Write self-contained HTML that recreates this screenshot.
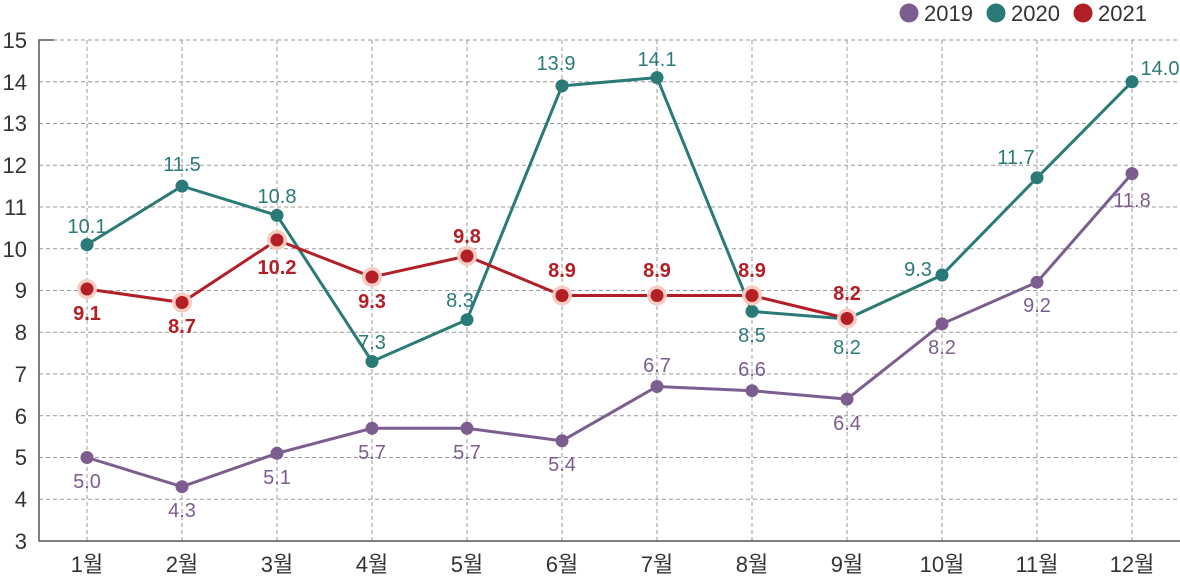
<!DOCTYPE html>
<html><head><meta charset="utf-8"><style>
html,body{margin:0;padding:0;background:#fff;}
svg{display:block;font-family:"Liberation Sans","Noto Sans CJK KR",sans-serif;}
.g{stroke:#999;stroke-width:1;stroke-dasharray:4,3;fill:none}
.yt{font-size:22px;fill:#333;text-anchor:end}
.xt{font-size:22px;fill:#333;text-anchor:middle}
.p{fill:#7b5e8f;font-size:20px;text-anchor:middle}
.t{fill:#2a7a77;font-size:20px;text-anchor:middle}
.r{fill:#b21f26;font-size:20px;text-anchor:middle;font-weight:bold}
</style></head><body>
<svg width="1180" height="578" viewBox="0 0 1180 578">
<g class="g">
<line x1="39" y1="40" x2="1180" y2="40"/><line x1="39" y1="81.75" x2="1180" y2="81.75"/><line x1="39" y1="123.5" x2="1180" y2="123.5"/><line x1="39" y1="165.25" x2="1180" y2="165.25"/><line x1="39" y1="207" x2="1180" y2="207"/><line x1="39" y1="248.75" x2="1180" y2="248.75"/><line x1="39" y1="290.5" x2="1180" y2="290.5"/><line x1="39" y1="332.25" x2="1180" y2="332.25"/><line x1="39" y1="374" x2="1180" y2="374"/><line x1="39" y1="415.75" x2="1180" y2="415.75"/><line x1="39" y1="457.5" x2="1180" y2="457.5"/><line x1="39" y1="499.25" x2="1180" y2="499.25"/>
<line x1="87" y1="40" x2="87" y2="541"/><line x1="182" y1="40" x2="182" y2="541"/><line x1="277" y1="40" x2="277" y2="541"/><line x1="372" y1="40" x2="372" y2="541"/><line x1="467" y1="40" x2="467" y2="541"/><line x1="562" y1="40" x2="562" y2="541"/><line x1="657" y1="40" x2="657" y2="541"/><line x1="752" y1="40" x2="752" y2="541"/><line x1="847" y1="40" x2="847" y2="541"/><line x1="942" y1="40" x2="942" y2="541"/><line x1="1037" y1="40" x2="1037" y2="541"/><line x1="1132" y1="40" x2="1132" y2="541"/>
</g>
<path d="M54 40H39V541H1180" stroke="#555" stroke-width="1.5" fill="none"/>
<g class="yt">
<text x="27" y="48">15</text><text x="27" y="90">14</text><text x="27" y="131">13</text><text x="27" y="173">12</text><text x="27" y="215">11</text><text x="27" y="257">10</text><text x="27" y="298">9</text><text x="27" y="340">8</text><text x="27" y="382">7</text><text x="27" y="424">6</text><text x="27" y="465">5</text><text x="27" y="507">4</text><text x="27" y="549">3</text>
</g>
<g class="xt">
<text x="87" y="572">1월</text><text x="182" y="572">2월</text><text x="277" y="572">3월</text><text x="372" y="572">4월</text><text x="467" y="572">5월</text><text x="562" y="572">6월</text><text x="657" y="572">7월</text><text x="752" y="572">8월</text><text x="847" y="572">9월</text><text x="942" y="572">10월</text><text x="1037" y="572">11월</text><text x="1132" y="572">12월</text>
</g>
<polyline fill="none" stroke="#7b5e8f" stroke-width="3" points="87,457.5 182,486.7 277,453.3 372,428.3 467,428.3 562,440.8 657,386.5 752,390.7 847,399.1 942,323.9 1037,282.2 1132,173.6"/>
<g fill="#7b5e8f">
<circle cx="87" cy="457.5" r="6.5"/><circle cx="182" cy="486.7" r="6.5"/><circle cx="277" cy="453.3" r="6.5"/><circle cx="372" cy="428.3" r="6.5"/><circle cx="467" cy="428.3" r="6.5"/><circle cx="562" cy="440.8" r="6.5"/><circle cx="657" cy="386.5" r="6.5"/><circle cx="752" cy="390.7" r="6.5"/><circle cx="847" cy="399.1" r="6.5"/><circle cx="942" cy="323.9" r="6.5"/><circle cx="1037" cy="282.2" r="6.5"/><circle cx="1132" cy="173.6" r="6.5"/>
</g>
<g class="p">
<text x="87" y="488">5.0</text><text x="182" y="517">4.3</text><text x="277" y="484">5.1</text><text x="372" y="459">5.7</text><text x="467" y="459">5.7</text><text x="562" y="471">5.4</text><text x="657" y="372">6.7</text><text x="752" y="376">6.6</text><text x="847" y="430">6.4</text><text x="942" y="354">8.2</text><text x="1037" y="312">9.2</text><text x="1132" y="207">11.8</text>
</g>
<polyline fill="none" stroke="#2a7a77" stroke-width="3" points="87,244.6 182,186.1 277,215.4 372,361.5 467,319.7 562,85.9 657,77.6 752,311.4 847,319 942,275 1037,177.8 1132,81.8"/>
<g fill="#2a7a77">
<circle cx="87" cy="244.6" r="6.5"/><circle cx="182" cy="186.1" r="6.5"/><circle cx="277" cy="215.4" r="6.5"/><circle cx="372" cy="361.5" r="6.5"/><circle cx="467" cy="319.7" r="6.5"/><circle cx="562" cy="85.9" r="6.5"/><circle cx="657" cy="77.6" r="6.5"/><circle cx="752" cy="311.4" r="6.5"/><circle cx="942" cy="275" r="6.5"/><circle cx="1037" cy="177.8" r="6.5"/><circle cx="1132" cy="81.8" r="6.5"/>
</g>
<g class="t">
<text x="87" y="233">10.1</text><text x="182" y="171">11.5</text><text x="277" y="203">10.8</text><text x="372" y="349">7.3</text><text x="460" y="307">8.3</text><text x="556" y="70">13.9</text><text x="657" y="66">14.1</text><text x="752" y="342">8.5</text><text x="847" y="354">8.2</text><text x="918" y="276">9.3</text><text x="1016" y="164">11.7</text><text x="1160" y="75">14.0</text>
</g>
<polyline fill="none" stroke="#b21f26" stroke-width="3" points="87,289 182,302.5 277,240 372,277 467,256 562,295.5 657,295.5 752,295.5 847,318.5"/>
<g fill="#f7cdc2">
<circle cx="87" cy="289" r="10"/><circle cx="182" cy="302.5" r="10"/><circle cx="277" cy="240" r="10"/><circle cx="372" cy="277" r="10"/><circle cx="467" cy="256" r="10"/><circle cx="562" cy="295.5" r="10"/><circle cx="657" cy="295.5" r="10"/><circle cx="752" cy="295.5" r="10"/><circle cx="847" cy="318.5" r="10"/>
</g>
<g fill="#b21f26">
<circle cx="87" cy="289" r="6.5"/><circle cx="182" cy="302.5" r="6.5"/><circle cx="277" cy="240" r="6.5"/><circle cx="372" cy="277" r="6.5"/><circle cx="467" cy="256" r="6.5"/><circle cx="562" cy="295.5" r="6.5"/><circle cx="657" cy="295.5" r="6.5"/><circle cx="752" cy="295.5" r="6.5"/><circle cx="847" cy="318.5" r="6.5"/>
</g>
<g class="r">
<text x="87" y="320">9.1</text><text x="182" y="333">8.7</text><text x="277" y="274">10.2</text><text x="372" y="308">9.3</text><text x="467" y="243">9.8</text><text x="562" y="277">8.9</text><text x="657" y="277">8.9</text><text x="752" y="277">8.9</text><text x="847" y="300">8.2</text>
</g>
<circle cx="909" cy="13" r="9.5" fill="#7b5e8f"/><text x="924" y="21" font-size="22" fill="#333">2019</text>
<circle cx="996" cy="13" r="9.5" fill="#2a7a77"/><text x="1011" y="21" font-size="22" fill="#333">2020</text>
<circle cx="1083" cy="13" r="9.5" fill="#b21f26"/><text x="1098" y="21" font-size="22" fill="#333">2021</text>
</svg>
</body></html>
